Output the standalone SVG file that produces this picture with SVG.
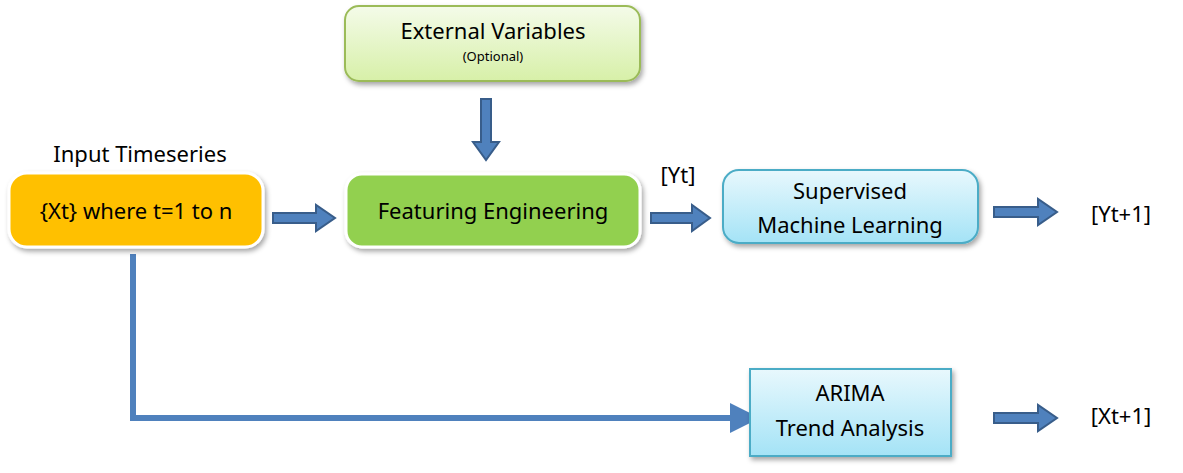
<svg xmlns="http://www.w3.org/2000/svg" width="1183" height="473" viewBox="0 0 1183 473">
<style>
text{font-family:"Noto Sans","Liberation Sans",sans-serif;fill:#000}
.t{font-size:22px}
.ba{fill:#4f81bd;stroke:#385d8a;stroke-width:2}
</style>
<defs>
<linearGradient id="gG" x1="0" y1="0" x2="0" y2="1"><stop offset="0" stop-color="#f4fbe9"/><stop offset="1" stop-color="#d7f0a8"/></linearGradient>
<linearGradient id="gB" x1="0" y1="0" x2="0" y2="1"><stop offset="0" stop-color="#e8f8fd"/><stop offset="1" stop-color="#a4e3f6"/></linearGradient>
<filter id="sh" x="-10%" y="-10%" width="130%" height="140%"><feDropShadow dx="2" dy="3" stdDeviation="2.5" flood-color="#000" flood-opacity="0.35"/></filter>
<marker id="ah" markerWidth="5" markerHeight="5" refX="0" refY="2.5" orient="auto" markerUnits="strokeWidth"><path d="M0,0 L5,2.5 L0,5 z" fill="#4f81bd"/></marker>
</defs>
<g id="connectors">
<path d="M133,254 V418 H730" fill="none" stroke="#4f81bd" stroke-width="6" marker-end="url(#ah)"/>
<path class="ba" d="M273,213 H316 V205 L335,218 L316,231 V223 H273 Z"/>
<path class="ba" d="M651,213 H692 V205 L710,218 L692,231 V223 H651 Z"/>
<path class="ba" d="M994,207 H1038 V199 L1057,212 L1038,225 V217 H994 Z"/>
<path class="ba" d="M994,413 H1038 V405 L1057,418 L1038,431 V423 H994 Z"/>
<path class="ba" d="M481,99 H491 V142 H499 L486,160 L473,142 H481 Z"/>
</g>
<g id="input-label"><text class="t" x="140" y="162" text-anchor="middle">Input Timeseries</text></g>
<g id="input"><rect x="9" y="173" width="254" height="74" rx="18" fill="#ffc000" stroke="#fff" stroke-width="3" filter="url(#sh)"/><text class="t" x="136" y="219" text-anchor="middle">{Xt} where t=1 to n</text></g>
<g id="external"><rect x="345" y="6" width="295" height="75" rx="14" fill="url(#gG)" stroke="#9bbb59" stroke-width="2" filter="url(#sh)"/><text class="t" x="493" y="39" text-anchor="middle">External Variables</text><text x="493" y="61" text-anchor="middle" font-size="13">(Optional)</text></g>
<g id="feature"><rect x="346" y="174" width="294" height="73" rx="16" fill="#92d050" stroke="#fff" stroke-width="3" filter="url(#sh)"/><text class="t" x="493" y="219" text-anchor="middle">Featuring Engineering</text></g>
<g id="yt"><text class="t" x="678" y="183" text-anchor="middle">[Yt]</text></g>
<g id="supervised"><rect x="723" y="170" width="255" height="73" rx="16" fill="url(#gB)" stroke="#4bacc6" stroke-width="2" filter="url(#sh)"/><text class="t" x="850" y="199" text-anchor="middle">Supervised</text><text class="t" x="850" y="233" text-anchor="middle">Machine Learning</text></g>
<g id="yt1"><text class="t" x="1121" y="222" text-anchor="middle" font-size="24">[Yt+1]</text></g>
<g id="arima"><rect x="750" y="369" width="201" height="87" fill="url(#gB)" stroke="#4bacc6" stroke-width="2" filter="url(#sh)"/><text class="t" x="850" y="401" text-anchor="middle">ARIMA</text><text class="t" x="850" y="436" text-anchor="middle">Trend Analysis</text></g>
<g id="xt1"><text class="t" x="1121" y="424" text-anchor="middle" font-size="24">[Xt+1]</text></g>
</svg>
